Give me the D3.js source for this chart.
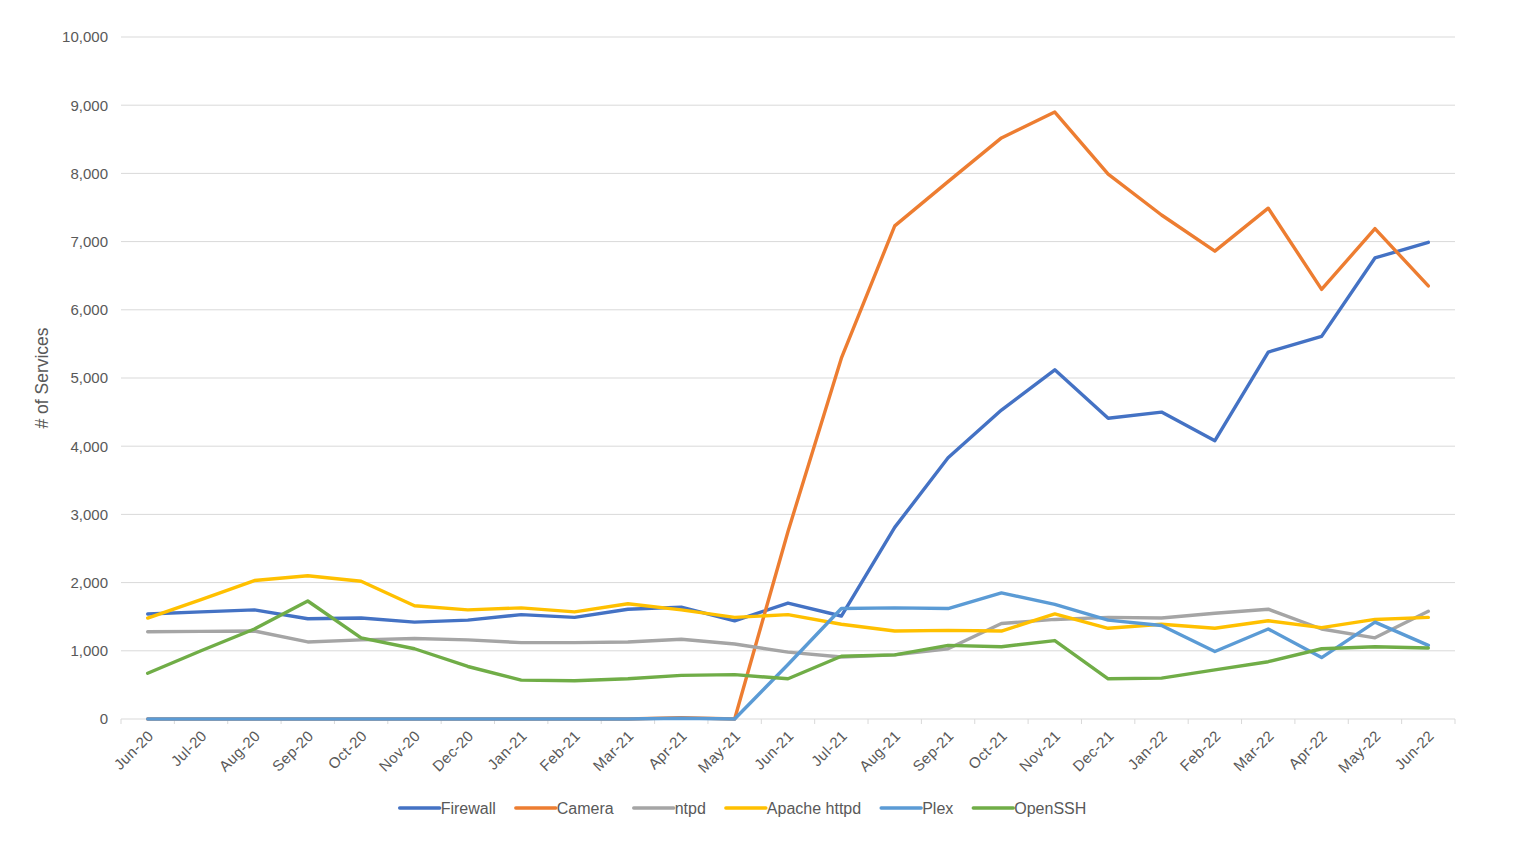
<!DOCTYPE html>
<html>
<head>
<meta charset="utf-8">
<script src="https://cdn.jsdelivr.net/npm/d3@7"></script>
<style>
  body { margin: 0; background: #fff; }
  svg text { font-family: "Liberation Sans", Arial, sans-serif; fill: #595959; }
</style>
</head>
<body>
<div id="chart"></div>
<script>
// months on the x axis
var months = ["Jun-20", "Jul-20", "Aug-20", "Sep-20", "Oct-20", "Nov-20", "Dec-20",
  "Jan-21", "Feb-21", "Mar-21", "Apr-21", "May-21", "Jun-21", "Jul-21", "Aug-21",
  "Sep-21", "Oct-21", "Nov-21", "Dec-21", "Jan-22", "Feb-22", "Mar-22", "Apr-22",
  "May-22", "Jun-22"];

var yTicks = [0, 1000, 2000, 3000, 4000, 5000, 6000, 7000, 8000, 9000, 10000];

// series values
var firewall = [1540, 1570, 1600, 1470, 1480, 1420, 1450, 1530, 1490, 1610, 1640, 1440,
  1700, 1510, 2810, 3830, 4530, 5120, 4410, 4500, 4080, 5380, 5610, 6760, 6990];
var camera = [0, 0, 0, 0, 0, 0, 0, 0, 0, 0, 20, 0,
  2750, 5290, 7230, 7880, 8520, 8900, 7990, 7390, 6860, 7490, 6300, 7190, 6350];
var ntpd = [1280, 1285, 1290, 1130, 1160, 1180, 1160, 1120, 1120, 1130, 1170, 1100,
  980, 910, 940, 1030, 1400, 1460, 1490, 1480, 1550, 1610, 1320, 1190, 1580];
var apache = [1480, 1750, 2030, 2100, 2020, 1660, 1600, 1630, 1570, 1690, 1600, 1490,
  1530, 1390, 1290, 1300, 1290, 1540, 1330, 1390, 1330, 1440, 1340, 1460, 1490];
var plex = [0, 0, 0, 0, 0, 0, 0, 0, 0, 0, 10, 0,
  800, 1620, 1630, 1620, 1850, 1680, 1450, 1370, 990, 1320, 900, 1420, 1080];
var openssh = [670, 1000, 1320, 1730, 1190, 1030, 770, 570, 560, 590, 640, 650,
  590, 920, 940, 1080, 1060, 1150, 590, 600, 720, 840, 1030, 1060, 1040];

var seriesNames = ["Firewall", "Camera", "ntpd", "Apache httpd", "Plex", "OpenSSH"];
var seriesColors = ["#4472C4", "#ED7D31", "#A5A5A5", "#FFC000", "#5B9BD5", "#70AD47"];
var seriesValues = [firewall, camera, ntpd, apache, plex, openssh];

// chart box
var margin = { top: 37, right: 81, bottom: 127, left: 121 },
  width = 1536 - margin.left - margin.right,
  height = 846 - margin.top - margin.bottom;

var svg = d3.select("#chart")
  .append("svg")
  .attr("width", 1536)
  .attr("height", 846);

var g = svg.append("g")
  .attr("transform", "translate(" + margin.left + "," + margin.top + ")");

var x = d3.scaleBand().domain(months).range([0, width]);
var y = d3.scaleLinear().domain([0, 10000]).range([height, 0]);

// gridlines
g.append("g")
  .selectAll("line")
  .data(yTicks.filter(function(d) { return d > 0; }))
  .enter()
  .append("line")
  .attr("x1", 0)
  .attr("x2", width)
  .attr("y1", function(d) { return y(d); })
  .attr("y2", function(d) { return y(d); })
  .style("stroke", "#d9d9d9")
  .style("stroke-width", 1);

// y axis labels (no line)
var yAxis = g.append("g")
  .call(d3.axisLeft(y).tickValues(yTicks).tickSize(0).tickPadding(13).tickFormat(d3.format(",")));
yAxis.select(".domain").remove();
yAxis.selectAll("text").style("font-size", "15px");

// x axis with ticks at band boundaries
var xAxisG = g.append("g").attr("transform", "translate(0," + height + ")");
xAxisG.append("line")
  .attr("x1", 0).attr("x2", width)
  .style("stroke", "#d9d9d9").style("stroke-width", 1);
xAxisG.selectAll(".tick")
  .data(d3.range(months.length + 1))
  .enter()
  .append("line")
  .attr("x1", function(i) { return i * x.bandwidth(); })
  .attr("x2", function(i) { return i * x.bandwidth(); })
  .attr("y1", 0).attr("y2", 5)
  .style("stroke", "#d9d9d9");
xAxisG.selectAll(".xlabel")
  .data(months)
  .enter()
  .append("text")
  .attr("class", "xlabel")
  .attr("transform", function(d) {
    return "translate(" + (x(d) + x.bandwidth() / 2 + 3) + ",14) rotate(-45)";
  })
  .attr("text-anchor", "end")
  .attr("dy", "0.35em")
  .style("font-size", "15px")
  .style("letter-spacing", "0.4px")
  .text(function(d) { return d; });

// y axis title
svg.append("text")
  .attr("transform", "translate(48," + (margin.top + height / 2) + ") rotate(-90)")
  .attr("text-anchor", "middle")
  .style("font-size", "17.5px")
  .text("# of Services");

// lines
var line = d3.line()
  .x(function(d, i) { return x(months[i]) + x.bandwidth() / 2; })
  .y(function(d) { return y(d); });

seriesValues.forEach(function(vals, k) {
  g.append("path")
    .datum(vals)
    .attr("d", line)
    .style("fill", "none")
    .style("stroke", seriesColors[k])
    .style("stroke-width", 3.4)
    .style("stroke-linejoin", "round")
    .style("stroke-linecap", "round");
});

// legend, laid out from measured text widths
var legend = svg.append("g");
var lx = 0;
seriesNames.forEach(function(name, k) {
  var item = legend.append("g").attr("transform", "translate(" + lx + ",0)");
  item.append("line")
    .attr("x1", 0).attr("x2", 40)
    .attr("y1", 0).attr("y2", 0)
    .style("stroke", seriesColors[k])
    .style("stroke-width", 3.4)
    .style("stroke-linecap", "round");
  var t = item.append("text")
    .attr("x", 41)
    .attr("dy", "0.35em")
    .style("font-size", "16px")
    .text(name);
  lx += 41 + t.node().getComputedTextLength() + 20;
});
lx -= 20;
legend.attr("transform", "translate(" + (743 - lx / 2) + ",808)");
</script>
</body>
</html>
